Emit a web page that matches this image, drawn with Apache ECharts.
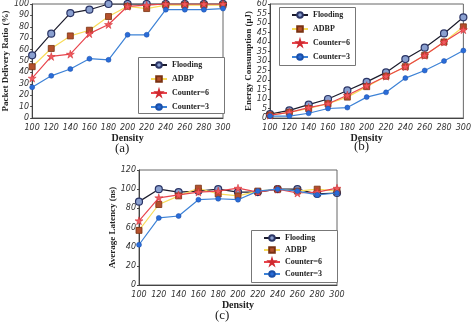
<!DOCTYPE html>
<html><head><meta charset="utf-8">
<script src="https://cdn.jsdelivr.net/npm/echarts@6/dist/echarts.min.js"></script>
<style>html,body{margin:0;padding:0;background:#fff}#c{width:474px;height:322px}</style>
</head><body><div id="c"></div>
<script>
const density = [100,120,140,160,180,200,220,240,260,280,300];
const seriesNames = ['Flooding','ADBP','Counter=6','Counter=3'];
// (a) Packet Delivery Ratio (%)
const pdrFlooding = [55,74,92,95,100,100,100,100,100,100,100];
const pdrADBP     = [45,61,72,77,89,98,96,99,99,99,99];
const pdrC6       = [35,54,56,74,82,98,99,100,100,100,100];
const pdrC3       = [27,37,43,52,51,73,73,95,95,95,96];
// (b) Energy Consumption (uJ)
const enFlooding = [2,4,7,10,14.5,19,24,31,37,44.5,53];
const enADBP     = [1.5,3,5,7.5,11,16.5,22,27,33,40,48];
const enC6       = [1.5,3,5.5,7.5,12,17,22,27,33,40,46.5];
const enC3       = [1,1,2.5,5,5.5,11,13.5,21,25,30,35.5];
// (c) Average Latency (ns)
const latFlooding = [87,100,97,98,100,97,97,100,100,95,96];
const latADBP     = [57,84,93,101,95,93,98,100,98,100,98];
const latC6       = [67,91,94,97,98,101,97,100,96,97,101];
const latC3       = [42,70,72,89,90,89,98,100,98,94,96];

const panels = [
  {data:[pdrFlooding,pdrADBP,pdrC6,pdrC3], yName:'Packet Delivery Ratio (%)', min:0, max:100, interval:10, caption:'(a)'},
  {data:[enFlooding,enADBP,enC6,enC3], yName:'Energy Consumption (μJ)', min:0, max:60, interval:5, caption:'(b)'},
  {data:[latFlooding,latADBP,latC6,latC3], yName:'Average Latency (ns)', min:0, max:120, interval:20, caption:'(c)'}
];

const grids = [
  {left:24, right:251, top:3, bottom:204},
  {left:270, right:6, top:4, bottom:204},
  {left:139, right:137, top:170, bottom:37}
];
const legendPos = [
  {left:138, top:57, w:86, h:56, itemGap:6},
  {left:279, top:7, w:76, h:58, itemGap:6},
  {left:251, top:230, w:86, h:52, itemGap:4}
];
const captionPos = [[123,149],[362,147],[223,316]];

const star = 'path://M50,0 L61,35 L98,35 L68,57 L79,91 L50,70 L21,91 L32,57 L2,35 L39,35 Z';
const styles = [
  {line:'#1c1c2c', symbol:'circle', size:7, color:'#8aa0d0', border:'#2b3566', bw:1.2},
  {line:'#f8dc5a', symbol:'rect', size:6, color:'#b4502c', border:'#7a3212', bw:0.8},
  {line:'#e8454d', symbol:star, size:8, color:'#ef5a5e', border:'#d02a30', bw:0.5},
  {line:'#3d82d6', symbol:'circle', size:5, color:'#2a6cd8', border:'#1a4fa8', bw:0.5}
];

const font = 'DejaVu Sans';
const serif = 'Liberation Serif';
const option = {animation:false, grid:[], xAxis:[], yAxis:[], series:[], legend:[], graphic:[]};
panels.forEach((p,i)=>{
  option.grid.push(Object.assign({show:true, borderColor:'#666', borderWidth:1}, grids[i]));
  option.xAxis.push({type:'value', gridIndex:i, min:100, max:300, interval:20,
    name:'Density', nameLocation:'middle', nameGap:15,
    nameTextStyle:{fontFamily:serif, fontWeight:'bold', fontSize:10, color:'#222'},
    axisLine:{lineStyle:{color:'#444'}}, axisTick:{show:false},
    axisLabel:{fontFamily:font, fontStyle:'italic', fontSize:8, color:'#333', margin:6},
    splitLine:{show:false}});
  option.yAxis.push({type:'value', gridIndex:i, min:p.min, max:p.max, interval:p.interval,
    name:p.yName, nameLocation:'middle', nameGap:14,
    nameTextStyle:{fontFamily:serif, fontWeight:'bold', fontSize:9, color:'#222'},
    axisLine:{lineStyle:{color:'#444'}}, axisTick:{show:true, length:2, lineStyle:{color:'#444'}},
    axisLabel:{fontFamily:font, fontStyle:'italic', fontSize:8, color:'#333', margin:3},
    splitLine:{show:false}});
  p.data.forEach((vals,k)=>{
    const s = styles[k];
    option.series.push({type:'line', name:seriesNames[k], xAxisIndex:i, yAxisIndex:i,
      data:density.map((d,j)=>[d,vals[j]]), symbol:s.symbol, symbolSize:s.size,
      lineStyle:{color:s.line, width:1.2},
      itemStyle:{color:s.color, borderColor:s.border, borderWidth:s.bw}, z:2+k});
  });
  const L = legendPos[i];
  option.graphic.push({type:'rect', left:L.left, top:L.top, shape:{width:L.w, height:L.h},
    style:{fill:'#fff', stroke:'#777', lineWidth:1}, z:10});
  option.legend.push({orient:'vertical', left:L.left+12, top:L.top+4, padding:0, itemGap:L.itemGap,
    itemWidth:16, itemHeight:7, z:20, data:seriesNames, selectedMode:false,
    textStyle:{fontFamily:serif, fontWeight:'bold', fontSize:8, color:'#222'}});
  option.graphic.push({type:'text', left:captionPos[i][0]-8, top:captionPos[i][1]-7,
    style:{text:p.caption, font:'13px "Liberation Serif"', fill:'#222'}});
});
const chart = echarts.init(document.getElementById('c'));
chart.setOption(option);
</script></body></html>
